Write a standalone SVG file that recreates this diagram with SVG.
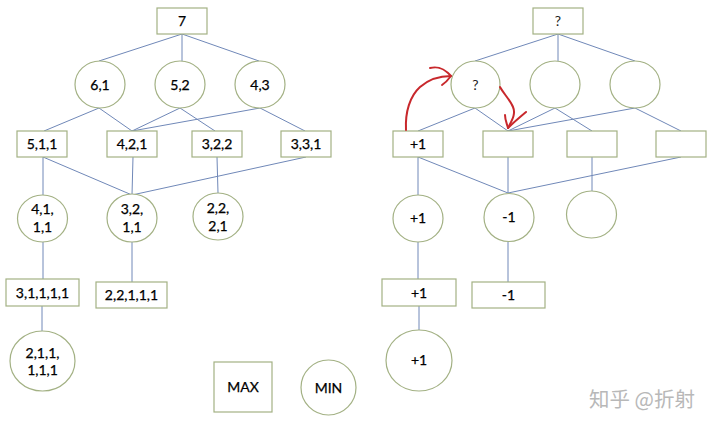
<svg xmlns="http://www.w3.org/2000/svg" width="720" height="429" viewBox="0 0 720 429">
<style>
.n{fill:#fff;stroke:#a3b184;stroke-width:1.2}
.t{font-family:Lato,"Open Sans","Liberation Sans",sans-serif;font-size:14px;fill:#000;text-anchor:middle;stroke:#000;stroke-width:0.25}
.q{stroke:none;fill:#222}
.c line{stroke:#7088b8;stroke-width:1}
.r{fill:none;stroke:#c8282c;stroke-width:2;stroke-linecap:round;stroke-linejoin:round}
</style>
<rect width="720" height="429" fill="#fff"/>
<g class="c" id="connectors">
<line x1="182" y1="34" x2="99" y2="61"/><line x1="182" y1="34" x2="182" y2="61"/><line x1="182" y1="34" x2="259" y2="61"/>
<line x1="99" y1="108" x2="44" y2="131"/><line x1="99" y1="108" x2="132" y2="131"/><line x1="180" y1="108" x2="132" y2="131"/><line x1="180" y1="108" x2="215" y2="131"/><line x1="260" y1="108" x2="132" y2="131"/><line x1="260" y1="108" x2="305" y2="131"/>
<line x1="43" y1="157" x2="43" y2="195"/><line x1="43" y1="157" x2="132" y2="195"/><line x1="133" y1="157" x2="132" y2="195"/><line x1="217" y1="157" x2="218" y2="193"/><line x1="306" y1="157" x2="132" y2="195"/>
<line x1="43" y1="242" x2="43" y2="279"/><line x1="132" y1="242" x2="132" y2="282"/><line x1="42" y1="306" x2="42" y2="331"/>
<line x1="558" y1="34" x2="475" y2="61"/><line x1="558" y1="34" x2="558" y2="61"/><line x1="558" y1="34" x2="635" y2="61"/>
<line x1="475" y1="108" x2="418" y2="131"/><line x1="475" y1="108" x2="508" y2="131"/><line x1="555" y1="108" x2="508" y2="131"/><line x1="555" y1="108" x2="592" y2="131"/><line x1="635" y1="108" x2="508" y2="131"/><line x1="635" y1="108" x2="681" y2="131"/>
<line x1="418" y1="157" x2="418" y2="195"/><line x1="418" y1="157" x2="508" y2="193"/><line x1="508" y1="157" x2="508" y2="193"/><line x1="592" y1="157" x2="592" y2="191"/><line x1="681" y1="157" x2="508" y2="193"/>
<line x1="418" y1="242" x2="418" y2="279"/><line x1="508" y1="242" x2="508" y2="282"/><line x1="419" y1="306" x2="419" y2="330"/>
</g>
<g id="L7"><rect class="n" x="157" y="8" width="50" height="26"/><text class="t" x="182" y="26">7</text></g>
<g id="L61"><ellipse class="n" cx="100" cy="84.5" rx="25" ry="23.5"/><text class="t" x="100" y="89.5">6,1</text></g>
<g id="L52"><ellipse class="n" cx="180" cy="84.5" rx="25" ry="23.5"/><text class="t" x="180" y="89.5">5,2</text></g>
<g id="L43"><ellipse class="n" cx="260" cy="84.5" rx="25" ry="23.5"/><text class="t" x="260" y="89.5">4,3</text></g>
<g id="L511"><rect class="n" x="17" y="131" width="50" height="26"/><text class="t" x="42" y="149">5,1,1</text></g>
<g id="L421"><rect class="n" x="107" y="131" width="50" height="26"/><text class="t" x="132" y="149">4,2,1</text></g>
<g id="L322"><rect class="n" x="192" y="131" width="50" height="26"/><text class="t" x="217" y="149">3,2,2</text></g>
<g id="L331"><rect class="n" x="281" y="131" width="50" height="26"/><text class="t" x="306" y="149">3,3,1</text></g>
<g id="L4111"><ellipse class="n" cx="42.5" cy="218.5" rx="25" ry="23.5"/><text class="t" x="42.5" y="214">4,1,</text><text class="t" x="42.5" y="232">1,1</text></g>
<g id="L3211"><ellipse class="n" cx="132" cy="218" rx="25" ry="24"/><text class="t" x="132" y="214">3,2,</text><text class="t" x="132" y="232">1,1</text></g>
<g id="L2221"><ellipse class="n" cx="218" cy="216.5" rx="25" ry="23.5"/><text class="t" x="218" y="213">2,2,</text><text class="t" x="218" y="231">2,1</text></g>
<g id="L31111"><rect class="n" x="6" y="279" width="73" height="27"/><text class="t" x="42.5" y="297.5">3,1,1,1,1</text></g>
<g id="L22111"><rect class="n" x="96" y="282" width="71" height="26"/><text class="t" x="131.5" y="300">2,2,1,1,1</text></g>
<g id="L211111"><ellipse class="n" cx="42.5" cy="361" rx="32.5" ry="30"/><text class="t" x="42.5" y="358">2,1,1,</text><text class="t" x="42.5" y="375">1,1,1</text></g>
<g id="MAX"><rect class="n" x="214" y="362" width="58" height="50"/><text class="t" x="243" y="392">MAX</text></g>
<g id="MIN"><ellipse class="n" cx="328.5" cy="387.5" rx="27.5" ry="27.5"/><text class="t" x="328.5" y="392.5">MIN</text></g>
<g id="Rroot"><rect class="n" x="533" y="8" width="50" height="26"/><text class="t q" x="558" y="26">?</text></g>
<g id="Rc1"><ellipse class="n" cx="475.5" cy="84.5" rx="24.5" ry="23.5"/><text class="t q" x="475.5" y="89.5">?</text></g>
<g id="Rc2"><ellipse class="n" cx="555" cy="84.5" rx="25" ry="23.5"/></g>
<g id="Rc3"><ellipse class="n" cx="635" cy="84.5" rx="25" ry="23.5"/></g>
<g id="Rb1"><rect class="n" x="393" y="131" width="50" height="26"/><text class="t" x="418" y="149">+1</text></g>
<g id="Rb2"><rect class="n" x="483" y="131" width="50" height="26"/></g>
<g id="Rb3"><rect class="n" x="567" y="131" width="50" height="26"/></g>
<g id="Rb4"><rect class="n" x="656" y="131" width="50" height="26"/></g>
<g id="Rd1"><ellipse class="n" cx="418" cy="218.5" rx="25" ry="23.5"/><text class="t" x="418" y="223">+1</text></g>
<g id="Rd2"><ellipse class="n" cx="509" cy="217.5" rx="25" ry="24"/><text class="t" x="509" y="222">-1</text></g>
<g id="Rd3"><ellipse class="n" cx="591.5" cy="214.5" rx="25" ry="23.5"/></g>
<g id="Re1"><rect class="n" x="382" y="279" width="74" height="27"/><text class="t" x="419" y="297.5">+1</text></g>
<g id="Re2"><rect class="n" x="472" y="282" width="73" height="26"/><text class="t" x="508.5" y="300">-1</text></g>
<g id="Rf1"><ellipse class="n" cx="419" cy="360.5" rx="33" ry="30.5"/><text class="t" x="419" y="365">+1</text></g>
<g id="arrows">
<path class="r" d="M406,130 C405,112 410,96 420,87 C428,80 438,76 451,76"/>
<path class="r" d="M430,68 C438,66 444,68 451,76 C448,80 445,83 442,85"/>
<path class="r" d="M500,87 C504,94 510,100 513,107 C516,114 512,120 508,128"/>
<path class="r" d="M505,115 C505,120 507,124 508,128 C514,122 520,117 526,112"/>
</g>
<text x="589" y="407" style="font-family:'Noto Sans CJK SC',sans-serif;font-size:20.5px;fill:#b8b8b8">知乎 @折射</text>
</svg>
